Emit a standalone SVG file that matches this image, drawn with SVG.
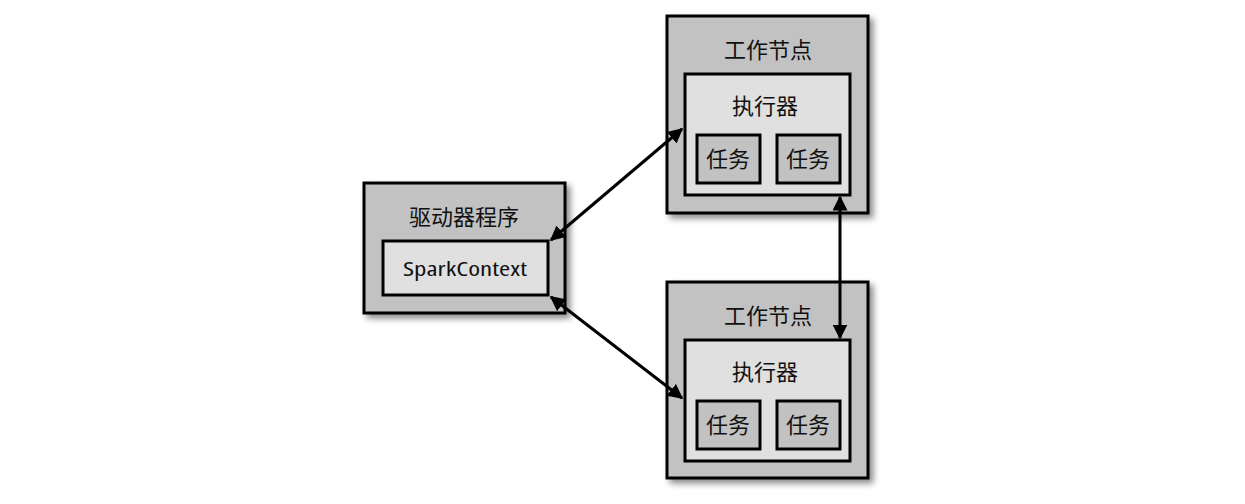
<svg xmlns="http://www.w3.org/2000/svg" width="1245" height="504" viewBox="0 0 1245 504">
<defs>
<filter id="sh" x="-10%" y="-10%" width="130%" height="130%"><feDropShadow dx="4" dy="4" stdDeviation="3" flood-color="#000" flood-opacity="0.45"/></filter>
<marker id="ar" viewBox="0 0 10 10" refX="9" refY="5" markerWidth="5" markerHeight="5" orient="auto-start-reverse"><path d="M0,0 L10,5 L0,10 z" fill="#000"/></marker>
</defs>
<style>
.outer{fill:#c2c2c2;stroke:#000;stroke-width:3}
.inner{fill:#e0e0e0;stroke:#000;stroke-width:3}
.task{fill:#c2c2c2;stroke:#000;stroke-width:3}
text{font-family:"Noto Sans CJK SC","Noto Sans",sans-serif;font-size:22px;fill:#111;text-anchor:middle}
.sc{font-family:"Open Sans",sans-serif;font-size:19px;font-stretch:condensed}
.c{stroke:#000;stroke-width:3;fill:none;marker-start:url(#ar);marker-end:url(#ar)}
</style>
<rect width="1245" height="504" fill="#fff"/>
<g id="driver">
<rect class="outer" x="364" y="183" width="201" height="130" filter="url(#sh)"/>
<text x="464" y="225">驱动器程序</text>
<rect class="inner" x="383" y="241" width="165" height="54"/>
<text class="sc" x="465" y="276" textLength="124" lengthAdjust="spacingAndGlyphs">SparkContext</text>
</g>
<g id="worker1">
<rect class="outer" x="667" y="16" width="201" height="197" filter="url(#sh)"/>
<text x="768" y="58">工作节点</text>
<rect class="inner" x="685" y="74" width="165" height="121"/>
<text x="765" y="114">执行器</text>
<rect class="task" x="697" y="135" width="63" height="48"/>
<text x="728" y="167">任务</text>
<rect class="task" x="777" y="135" width="63" height="48"/>
<text x="808" y="167">任务</text>
</g>
<g id="worker2">
<rect class="outer" x="667" y="282" width="201" height="196" filter="url(#sh)"/>
<text x="768" y="324">工作节点</text>
<rect class="inner" x="685" y="340" width="165" height="121"/>
<text x="765" y="380">执行器</text>
<rect class="task" x="697" y="401" width="63" height="48"/>
<text x="728" y="433">任务</text>
<rect class="task" x="777" y="401" width="63" height="48"/>
<text x="808" y="433">任务</text>
</g>
<g id="connectors">
<line class="c" x1="551" y1="240" x2="682" y2="129"/>
<line class="c" x1="551" y1="297" x2="682" y2="398"/>
<line class="c" x1="840" y1="197" x2="840" y2="338"/>
</g>
</svg>
